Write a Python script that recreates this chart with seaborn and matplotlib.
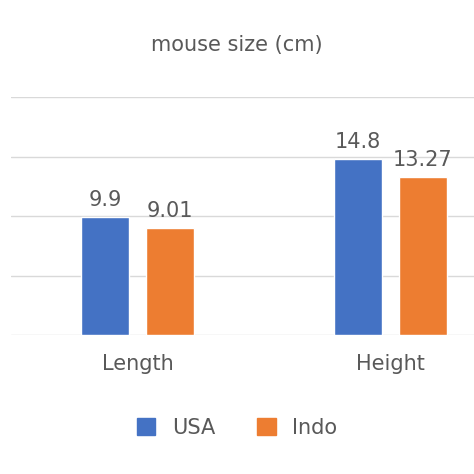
import matplotlib
matplotlib.use('Agg')
import matplotlib.pyplot as plt
import pandas as pd
import seaborn as sns
from matplotlib.patches import Patch

categories = ['Length', 'Height']
usa = [9.9, 14.8]
indo = [9.01, 13.27]
labels_usa = ['9.9', '14.8']
labels_indo = ['9.01', '13.27']

df = pd.DataFrame({
    'cat': categories * 2,
    'val': usa + indo,
    'series': ['USA'] * 2 + ['Indo'] * 2,
})

sns.set_style('white')
plt.rcParams['font.family'] = ['DejaVu Sans']
grey = '#595959'

fig = plt.figure(figsize=(4.74, 4.74), dpi=100)
ax = fig.add_axes([11 / 474, 1 - 335 / 474, 506 / 474, 238 / 474])
sns.barplot(data=df, x='cat', y='val', hue='series', palette=['#4472C4', '#ED7D31'],
            saturation=1, width=0.51, gap=0.25, ax=ax, legend=False)
ax.set_ylim(0, 20)
ax.set_xlim(-0.5, 1.5)
ax.set_yticks([0, 5, 10, 15, 20])
ax.yaxis.grid(True, color='#d9d9d9', lw=1)
ax.set_axisbelow(True)
ax.tick_params(axis='y', left=False, labelleft=False)
ax.tick_params(axis='x', length=0, labelsize=15, labelcolor=grey, pad=14)
for s in ax.spines.values():
    s.set_visible(False)
ax.set_xlabel('')
ax.set_ylabel('')
for cont, labs in zip(ax.containers, [labels_usa, labels_indo]):
    ax.bar_label(cont, labels=labs, fontsize=15, color=grey, padding=5)

fig.text(0.5, 1 - 45 / 474, 'mouse size (cm)', ha='center', va='center', fontsize=15, color=grey)
handles = [Patch(color='#4472C4', label='USA'), Patch(color='#ED7D31', label='Indo')]
fig.legend(handles=handles, loc='center', bbox_to_anchor=(0.5, 1 - 428 / 474), ncol=2,
           frameon=False, fontsize=15, labelcolor=grey, handlelength=0.9, handleheight=0.9,
           columnspacing=2.0)
fig.savefig('out.png', dpi=100)
